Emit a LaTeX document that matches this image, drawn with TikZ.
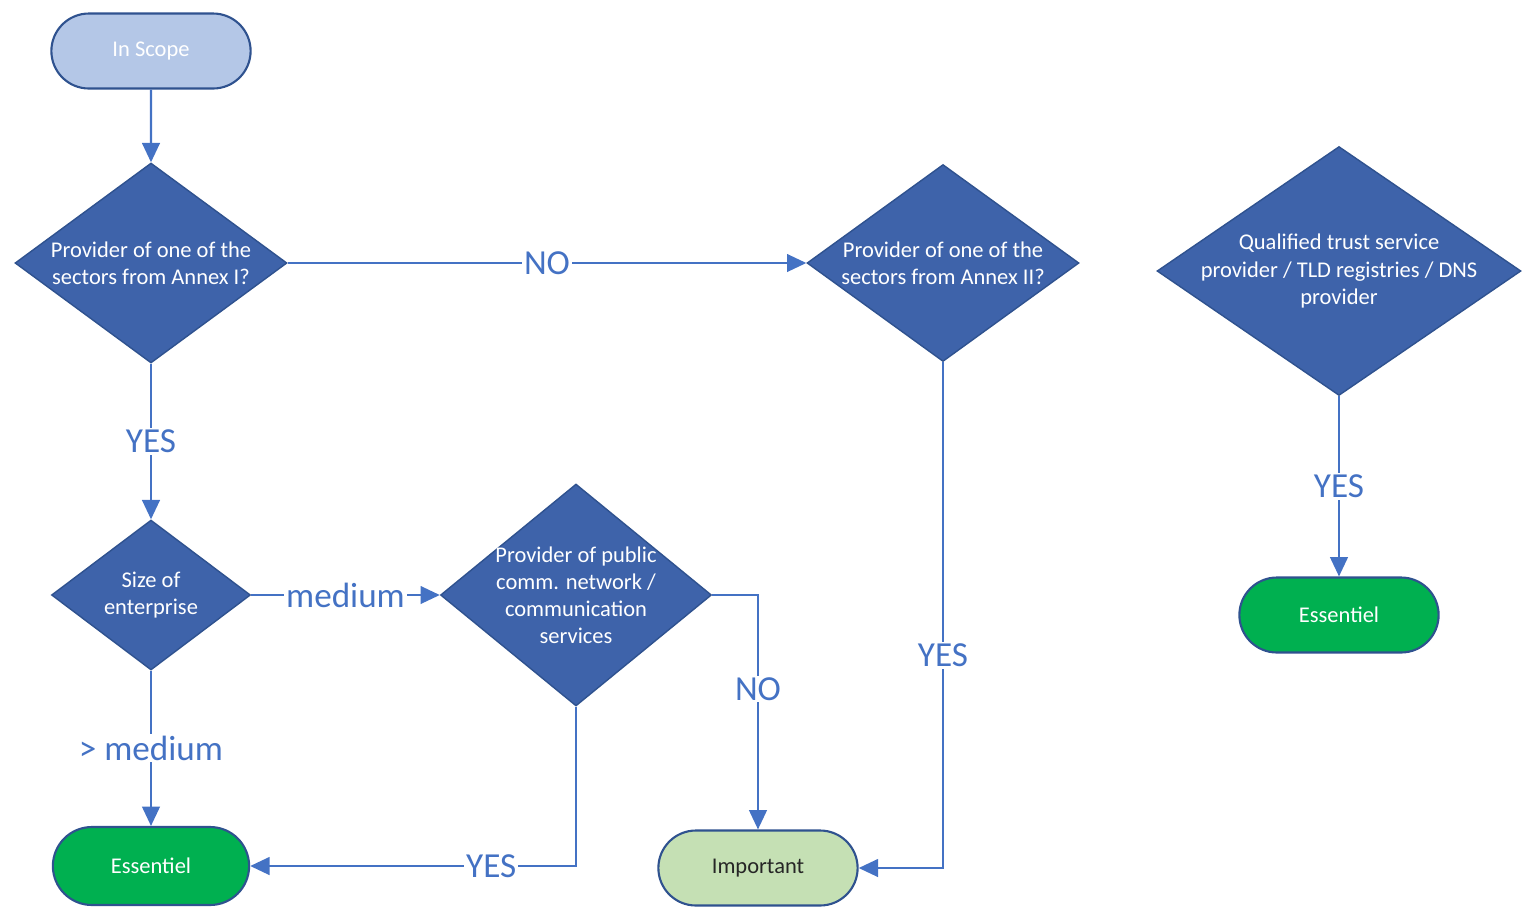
\documentclass[tikz,border=0pt]{standalone}
\usepackage{fontspec}
\setmainfont{Carlito}
\usetikzlibrary{shapes.geometric,shapes.misc,arrows.meta}
\definecolor{boxblue}{RGB}{62,99,170}
\definecolor{rimblue}{RGB}{47,82,143}
\definecolor{lineblue}{RGB}{68,114,196}
\definecolor{scopeblue}{RGB}{180,199,231}
\definecolor{essgreen}{RGB}{0,176,80}
\definecolor{impgreen}{RGB}{197,224,180}

\begin{document}
\begin{tikzpicture}[
  x=0.02cm,y=-0.02cm,
  term/.style={rounded rectangle,draw=rimblue,line width=1.2pt,minimum width=4.22cm,minimum height=1.5cm,font=\fontsize{12.8}{15.4}\selectfont},
  dec/.style={diamond,draw=rimblue,fill=boxblue,text=white,line width=0.8pt,inner sep=-6pt,align=center,font=\fontsize{12.8}{15.4}\selectfont},
  edge/.style={-{Triangle[length=11pt,width=10pt]},lineblue,line width=1.4pt},
  lbl/.style={fill=white,text=lineblue,inner sep=1pt,font=\fontsize{20}{24}\selectfont}
]
  \useasboundingbox (0,0) rectangle (1536,921);

  \node[term,fill=scopeblue,text=white] (scope) at (151,51) {In Scope};
  \node[dec,minimum width=5.44cm,minimum height=4cm,aspect=1.36] (annex1) at (151,263) {Provider of one of the\\sectors from Annex I?};
  \node[dec,minimum width=5.44cm,minimum height=3.94cm,aspect=1.38] (annex2) at (943,263) {Provider of one of the\\sectors from Annex II?};
  \node[dec,minimum width=7.28cm,minimum height=4.98cm,aspect=1.46] (trust) at (1339,271) {Qualified trust service\\provider / TLD registries / DNS\\provider};
  \node[dec,minimum width=3.98cm,minimum height=3cm,aspect=1.33] (size) at (151,595) {Size of\\enterprise};
  \node[dec,minimum width=5.42cm,minimum height=4.44cm,aspect=1.22] (comm) at (576,595) {Provider of public\\comm. network /\\communication\\services};
  \node[term,fill=essgreen,text=white,minimum width=4.16cm,minimum height=1.56cm] (ess1) at (151,866) {Essentiel};
  \node[term,fill=impgreen,text=black!85] (imp) at (758,868) {Important};
  \node[term,fill=essgreen,text=white] (ess2) at (1339,615) {Essentiel};

  \draw[edge] (scope)--(annex1);
  \draw[edge] (annex1.east)--node[lbl]{NO}(annex2.west);
  \draw[edge] (annex1.south)--node[lbl]{YES}(size.north);
  \draw[edge] (size.east)--node[lbl]{medium}(comm.west);
  \draw[edge] (size.south)--node[lbl]{> medium}(ess1.north);
  \draw[edge] (comm.south)|-node[lbl,pos=0.63]{YES}(ess1.east);
  \draw[edge] (comm.east)-|node[lbl,pos=0.7]{NO}(imp.north);
  \draw[edge] (annex2.south)|-node[lbl,pos=0.29]{YES}(imp.east);
  \draw[edge] (trust.south)--node[lbl]{YES}(ess2.north);
\end{tikzpicture}
\end{document}
